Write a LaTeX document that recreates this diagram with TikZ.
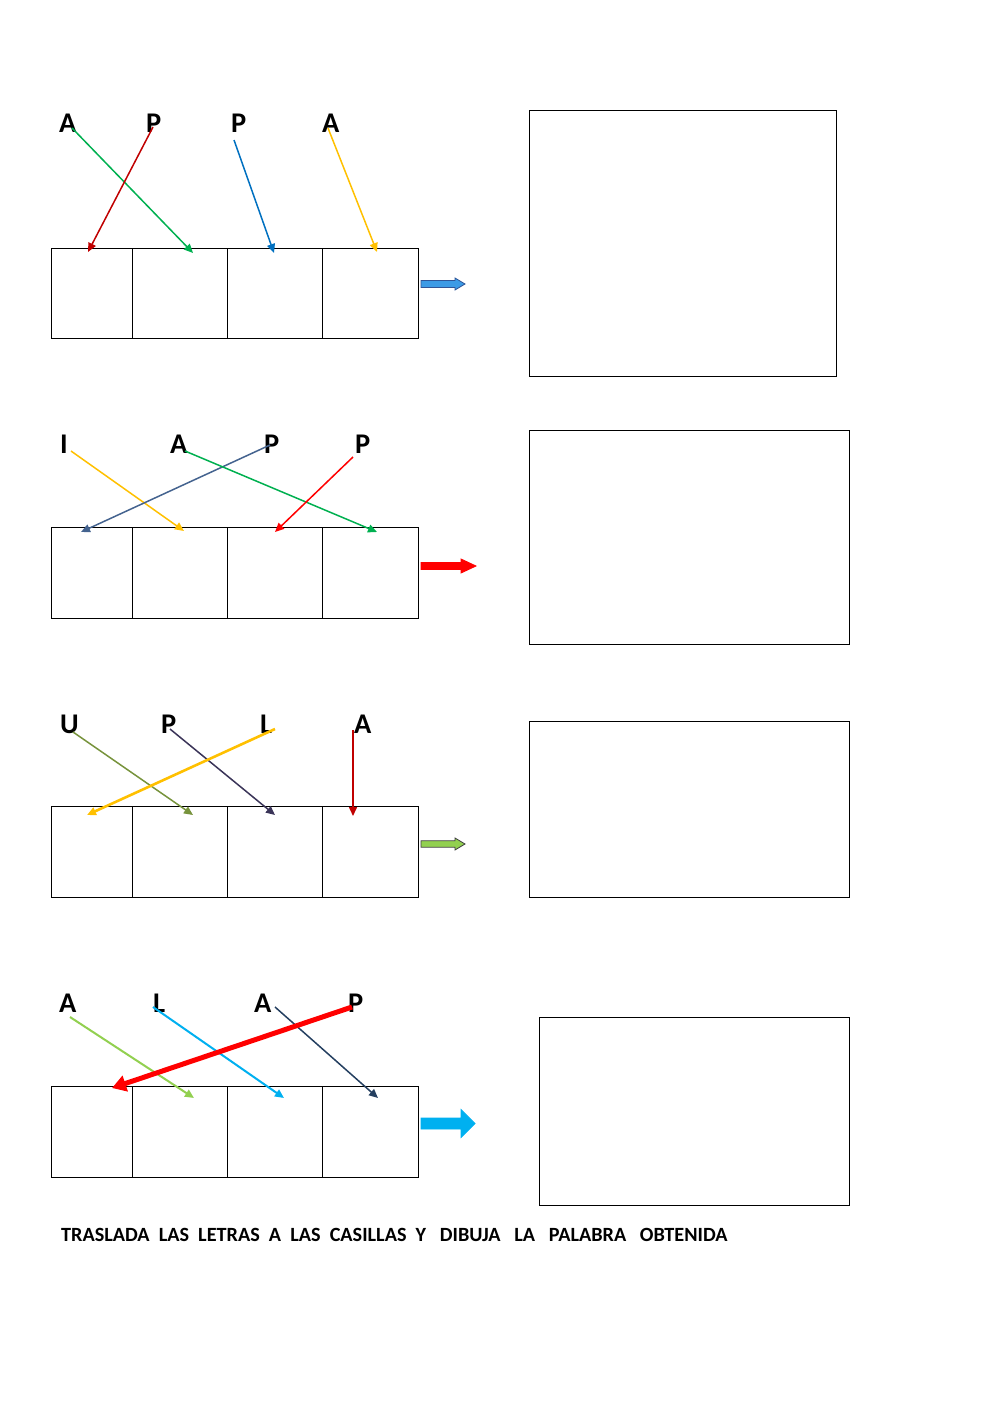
\documentclass[tikz,border=0pt]{standalone}
\usepackage{fontspec}
\setmainfont{Carlito}
\usetikzlibrary{arrows.meta}
\definecolor{cgreen}{HTML}{00B050}
\definecolor{cdred}{HTML}{C00000}
\definecolor{cblue}{HTML}{0070C0}
\definecolor{cyel}{HTML}{FFC000}
\definecolor{cslate}{HTML}{44638F}
\definecolor{cred}{HTML}{FF0000}
\definecolor{colive}{HTML}{77933C}
\definecolor{cpurp}{HTML}{3A3458}
\definecolor{clgreen}{HTML}{92D050}
\definecolor{ccyan}{HTML}{00B0F0}
\definecolor{cnavy}{HTML}{243F60}
\definecolor{cbarrow}{HTML}{3C9BE6}
\definecolor{cbline}{HTML}{2F5597}
\begin{document}
\begin{tikzpicture}[x=1pt,y=-1pt,
  letter/.style={anchor=base west,inner sep=0pt,font=\fontsize{28.5}{32}\selectfont\bfseries},
  link/.style={line width=1.5pt,-{Triangle[length=9pt,width=8pt]}},
  cell/.style={draw=black,line width=0.9pt},
  target/.style={draw=black,line width=1pt},
  blockarrow/.style={line width=0.8pt,line join=miter}]
\useasboundingbox (0,0) rectangle (1000,1413);

% ---------- cells ----------
\foreach \t/\b in {248/338, 527/618, 806/897, 1086/1177}{
  \draw[cell] (51,\t) rectangle (418,\b);
  \draw[cell] (132,\t) -- (132,\b);
  \draw[cell] (227,\t) -- (227,\b);
  \draw[cell] (322,\t) -- (322,\b);
}

% ---------- row 1 ----------
\node[letter] (a1) at (59,132) {A};
\node[letter] (a2) at (146,132) {P};
\node[letter] (a3) at (231,132) {P};
\node[letter] (a4) at (322,132) {A};
\coordinate (s11) at (72,128);  \coordinate (e11) at (193,253);
\coordinate (s12) at (153,127); \coordinate (e12) at (88,252);
\coordinate (s13) at (234,140); \coordinate (e13) at (274,253);
\coordinate (s14) at (328,128); \coordinate (e14) at (377,252);
\draw[link,cgreen] (s11) -- (e11);
\draw[link,cdred] (s12) -- (e12);
\draw[link,cblue] (s13) -- (e13);
\draw[link,cyel] (s14) -- (e14);

\draw[blockarrow,draw=cbline,fill=cbarrow] (421,280.5) -- (455,280.5) -- (455,278) -- (465,284) -- (455,290) -- (455,287.5) -- (421,287.5) -- cycle;
\node[target,minimum width=307pt,minimum height=266pt,inner sep=0pt,anchor=north west] (w1) at (529,110) {};

% ---------- row 2 ----------
\node[letter] (b1) at (60,453) {I};
\node[letter] (b2) at (170,453) {A};
\node[letter] (b3) at (264,453) {P};
\node[letter] (b4) at (355,453) {P};
\coordinate (s21) at (71,451);  \coordinate (e21) at (184,531);
\coordinate (s22) at (270,445); \coordinate (e22) at (81,532);
\coordinate (s23) at (185,451); \coordinate (e23) at (377,532);
\coordinate (s24) at (353,457); \coordinate (e24) at (275,532);
\draw[link,cyel] (s21) -- (e21);
\draw[link,cslate] (s22) -- (e22);
\draw[link,cgreen] (s23) -- (e23);
\draw[link,cred] (s24) -- (e24);

\draw[blockarrow,draw=cred,fill=cred] (421,562.5) -- (461,562.5) -- (461,559) -- (476,566) -- (461,573) -- (461,569.5) -- (421,569.5) -- cycle;
\node[target,minimum width=320pt,minimum height=214pt,inner sep=0pt,anchor=north west] (w2) at (529,430) {};

% ---------- row 3 ----------
\node[letter] (c1) at (60,733) {U};
\node[letter] (c2) at (161,733) {P};
\node[letter] (c3) at (260,733) {L};
\node[letter] (c4) at (354,733) {A};
\coordinate (s31) at (73,732);  \coordinate (e31) at (193,815);
\coordinate (s32) at (170,729); \coordinate (e32) at (275,815);
\coordinate (s33) at (275,729); \coordinate (e33) at (87,815);
\coordinate (s34) at (353,730); \coordinate (e34) at (353,816);
\draw[link,colive] (s31) -- (e31);
\draw[link,cpurp] (s32) -- (e32);
\draw[link,cyel,line width=2.6pt] (s33) -- (e33);
\draw[link,cdred] (s34) -- (e34);

\draw[blockarrow,draw=black!75,fill=clgreen] (421,840.8) -- (455,840.8) -- (455,838) -- (465,844) -- (455,850) -- (455,847.2) -- (421,847.2) -- cycle;
\node[target,minimum width=320pt,minimum height=176pt,inner sep=0pt,anchor=north west] (w3) at (529,721) {};

% ---------- row 4 ----------
\node[letter] (d1) at (59,1012) {A};
\node[letter] (d2) at (153,1012) {L};
\node[letter] (d3) at (254,1012) {A};
\node[letter] (d4) at (348,1012) {P};
\coordinate (s41) at (70,1017);  \coordinate (e41) at (194,1098);
\coordinate (s42) at (153,1007); \coordinate (e42) at (284,1098);
\coordinate (s43) at (275,1007); \coordinate (e43) at (378,1098);
\coordinate (s44) at (352,1007); \coordinate (e44) at (112,1088);
\draw[link,clgreen,line width=2pt] (s41) -- (e41);
\draw[link,ccyan,line width=2pt] (s42) -- (e42);
\draw[link,cnavy] (s43) -- (e43);
\draw[cred,line width=5pt,-{Triangle[length=14pt,width=16pt]}] (s44) -- (e44);

\draw[blockarrow,draw=ccyan,fill=ccyan] (421,1118) -- (461,1118) -- (461,1109.5) -- (475,1123.5) -- (461,1137.5) -- (461,1129) -- (421,1129) -- cycle;
\node[target,minimum width=310pt,minimum height=188pt,inner sep=0pt,anchor=north west] (w4) at (539,1017) {};

% ---------- caption ----------
\node[anchor=base west,inner sep=0pt,font=\fontsize{20.2}{24}\selectfont\bfseries] (cap) at (61,1241)
  {TRASLADA\ \ LAS\ \ LETRAS\ \ A\ \ LAS\ \ CASILLAS\ \ Y\ \ \ DIBUJA\ \ \ LA\ \ \ PALABRA\ \ \ OBTENIDA};
\end{tikzpicture}
\end{document}
